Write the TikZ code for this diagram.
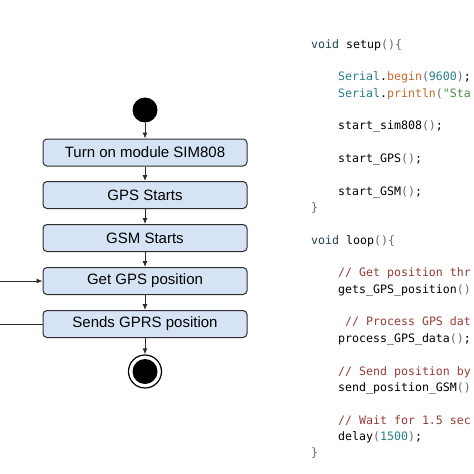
\documentclass[tikz,border=0pt]{standalone}
\usepackage{fontspec}
\usepackage{xcolor}
\usepackage{tikz}
\usetikzlibrary{arrows.meta}
\setmainfont{Liberation Sans}
\setmonofont{DejaVu Sans Mono}

\definecolor{actfill}{RGB}{213,227,244}
\definecolor{actline}{RGB}{45,45,45}
\definecolor{typecol}{RGB}{35,65,80}
\definecolor{objcol}{RGB}{40,125,140}
\definecolor{funccol}{RGB}{200,105,45}
\definecolor{numcol}{RGB}{40,130,140}
\definecolor{strcol}{RGB}{75,145,60}
\definecolor{cmtcol}{RGB}{150,60,55}
\definecolor{puncol}{RGB}{105,105,115}

\newcommand{\ctype}[1]{\textcolor{typecol}{#1}}
\newcommand{\cobj}[1]{\textcolor{objcol}{#1}}
\newcommand{\cfunc}[1]{\textcolor{funccol}{#1}}
\newcommand{\cnum}[1]{\textcolor{numcol}{#1}}
\newcommand{\cstr}[1]{\textcolor{strcol}{#1}}
\newcommand{\ccmt}[1]{\textcolor{cmtcol}{#1}}
\newcommand{\cpun}[1]{\textcolor{puncol}{#1}}

\begin{document}
\begin{tikzpicture}[x=1pt,y=-1pt,
	act/.style={draw=actline, fill=actfill, rounded corners=4pt, line width=1pt,
		minimum width=204pt, minimum height=27pt, inner sep=0pt,
		font=\fontsize{15}{18}\selectfont},
	flow/.style={-{Latex[length=6pt,width=5pt]}, draw=actline, line width=0.9pt},
	codeline/.style={anchor=base west, inner sep=0pt,
		font=\ttfamily\fontsize{11.6}{14}\selectfont}]
	% Page
	\fill[white] (0,0) rectangle (474,474);
	\useasboundingbox (0,0) rectangle (474,474);
	\clip (0,0) rectangle (474,474);
	
	% Activity diagram
	\node[circle, fill=black, minimum size=25pt, inner sep=0pt] (start) at (145,110) {};
	\node[act] (sim) at (145,152.5) {Turn on module SIM808};
	\node[act] (gps) at (145,195) {GPS Starts};
	\node[act] (gsm) at (145,238) {GSM Starts};
	\node[act] (getpos) at (145,281) {Get GPS position};
	\node[act] (send) at (145,324) {Sends GPRS position};
	\node[circle, draw=black, fill=white, line width=1.2pt, minimum size=33pt, inner sep=0pt] (stop) at (145,371.5) {};
	\node[circle, fill=black, minimum size=25pt, inner sep=0pt] (stopdot) at (stop) {};
	\coordinate (loopin) at (0,281);
	\coordinate (loopout) at (0,324);
	
	\draw[flow] (start) -- (sim);
	\draw[flow] (sim) -- (gps);
	\draw[flow] (gps) -- (gsm);
	\draw[flow] (gsm) -- (getpos);
	\draw[flow] (getpos) -- (send);
	\draw[flow] (send) -- (stop);
	\draw[flow] (loopin) -- (getpos);
	\draw[draw=actline, line width=0.9pt] (send) -- (loopout);
	
	% Arduino code
	\node[codeline] (c0) at (311,48) {\ctype{void} setup\cpun{()\{}};
	\node[codeline] (c2) at (338,80.7) {\cobj{Serial}.\cfunc{begin}\cpun{(}\cnum{9600}\cpun{)};};
	\node[codeline] (c3) at (338,97.05) {\cobj{Serial}.\cfunc{println}\cpun{(}\cstr{"Sta}};
	\node[codeline] (c5) at (338,129.75) {start\_sim808\cpun{()};};
	\node[codeline] (c7) at (338,162.45) {start\_GPS\cpun{()};};
	\node[codeline] (c9) at (338,195.15) {start\_GSM\cpun{()};};
	\node[codeline] (c10) at (311,211.5) {\cpun{\}}};
	\node[codeline] (c12) at (311,244.2) {\ctype{void} loop\cpun{()\{}};
	\node[codeline] (c14) at (338,276.9) {\ccmt{// Get position thr}};
	\node[codeline] (c15) at (338,293.25) {gets\_GPS\_position\cpun{()}};
	\node[codeline] (c17) at (345,325.95) {\ccmt{// Process GPS dat}};
	\node[codeline] (c18) at (338,342.3) {process\_GPS\_data\cpun{()};};
	\node[codeline] (c20) at (338,375) {\ccmt{// Send position by}};
	\node[codeline] (c21) at (338,391.35) {send\_position\_GSM\cpun{()}};
	\node[codeline] (c23) at (338,424.05) {\ccmt{// Wait for 1.5 sec}};
	\node[codeline] (c24) at (338,440.4) {delay\cpun{(}\cnum{1500}\cpun{)};};
	\node[codeline] (c25) at (311,456.75) {\cpun{\}}};
\end{tikzpicture}
\end{document}
